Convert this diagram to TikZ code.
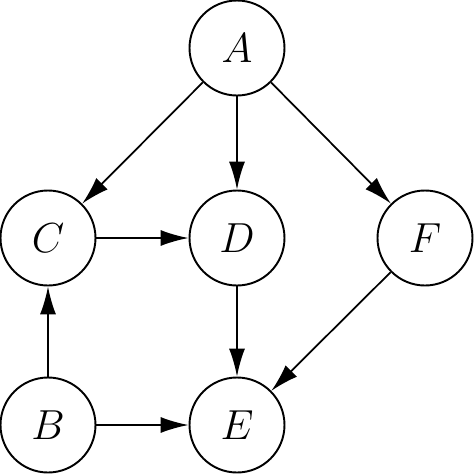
\documentclass[tikz,border=0pt]{standalone}
\usetikzlibrary{arrows.meta}
\begin{document}
\begin{tikzpicture}[x=0.2857pt,y=-0.2857pt,
  vert/.style={circle,draw,line width=0.55pt,minimum size=95*0.2857pt,inner sep=0pt,font=\large},
  edge/.style={line width=0.5pt,-{Latex[length=8pt,width=4.6pt]}}]
\useasboundingbox (0,0) rectangle (474,474);
\node[vert] (A) at (237,48) {$A$};
\node[vert] (C) at (48,238) {$C$};
\node[vert] (D) at (237,238) {$D$};
\node[vert] (F) at (425,238) {$F$};
\node[vert] (B) at (48,425) {$B$};
\node[vert] (E) at (237,425) {$E$};
\draw[edge] (A) -- (C);
\draw[edge] (A) -- (D);
\draw[edge] (A) -- (F);
\draw[edge] (C) -- (D);
\draw[edge] (D) -- (E);
\draw[edge] (F) -- (E);
\draw[edge] (B) -- (C);
\draw[edge] (B) -- (E);
\end{tikzpicture}
\end{document}
